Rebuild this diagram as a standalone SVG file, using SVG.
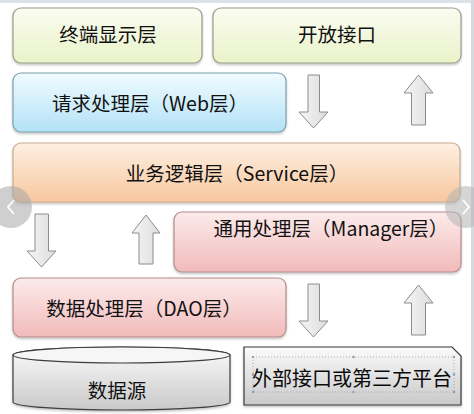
<svg xmlns="http://www.w3.org/2000/svg" width="474" height="414" viewBox="0 0 474 414">
<defs>
<linearGradient id="gYellow" x1="0" y1="0" x2="0" y2="1"><stop offset="0" stop-color="#fbfcf2"/><stop offset="1" stop-color="#e9f3c8"/></linearGradient>
<linearGradient id="gBlue" x1="0" y1="0" x2="0" y2="1"><stop offset="0" stop-color="#f0fbff"/><stop offset="1" stop-color="#b3e2f6"/></linearGradient>
<linearGradient id="gOrange" x1="0" y1="0" x2="0" y2="1"><stop offset="0" stop-color="#fdf0e2"/><stop offset="1" stop-color="#f8c79e"/></linearGradient>
<linearGradient id="gPink" x1="0" y1="0" x2="0" y2="1"><stop offset="0" stop-color="#fcebeb"/><stop offset="1" stop-color="#f2baba"/></linearGradient>
<linearGradient id="gGray" x1="0" y1="0" x2="0" y2="1"><stop offset="0" stop-color="#fbfbfb"/><stop offset="1" stop-color="#c9c9c9"/></linearGradient>
<linearGradient id="gArrow" x1="0" y1="0" x2="1" y2="0"><stop offset="0" stop-color="#f6f6f6"/><stop offset="1" stop-color="#dcdcdc"/></linearGradient>
<filter id="sh" x="-5%" y="-10%" width="110%" height="130%"><feDropShadow dx="0" dy="1.5" stdDeviation="1.2" flood-color="#000" flood-opacity="0.25"/></filter>
</defs>
<style>
.box{stroke-width:1.2;filter:url(#sh)}
.lbl{font-family:"Noto Sans CJK SC","Noto Sans",sans-serif;font-size:19.5px;font-weight:400;fill:#111111;text-anchor:middle}
.arr{fill:url(#gArrow);stroke:#8c8c8c;stroke-width:1}
</style>
<rect width="474" height="414" fill="#ffffff"/>
<rect x="0" y="0" width="474" height="3" fill="#dde2e9"/>
<rect x="471" y="0" width="3" height="414" fill="#d6d9df"/>

<g id="node-terminal">
<rect class="box" x="13" y="8" width="189" height="55" rx="8" fill="url(#gYellow)" stroke="#9c9c8a"/>
<text class="lbl" x="108" y="42">终端显示层</text>
</g>
<g id="node-openapi">
<rect class="box" x="213" y="8" width="248" height="55" rx="8" fill="url(#gYellow)" stroke="#9c9c8a"/>
<text class="lbl" x="337" y="42">开放接口</text>
</g>
<g id="node-web">
<rect class="box" x="13" y="73" width="273" height="59" rx="8" fill="url(#gBlue)" stroke="#7f9fae"/>
<text class="lbl" x="150" y="110.5">请求处理层（Web层）</text>
</g>
<g id="node-service">
<rect class="box" x="13" y="143" width="447" height="59" rx="8" fill="url(#gOrange)" stroke="#c9ab90"/>
<text class="lbl" x="237" y="180.5">业务逻辑层（Service层）</text>
</g>
<g id="node-manager">
<rect class="box" x="174" y="212" width="287" height="60" rx="8" fill="url(#gPink)" stroke="#b38c8c"/>
<text class="lbl" x="331" y="235.5">通用处理层（Manager层）</text>
</g>
<g id="node-dao">
<rect class="box" x="13" y="278" width="273" height="59" rx="8" fill="url(#gPink)" stroke="#b38c8c"/>
<text class="lbl" x="144" y="315.5">数据处理层（DAO层）</text>
</g>
<g id="node-datasource">
<path class="box" d="M13,355 V402 A108.5,8 0 0 0 230,402 V355 A108.5,8 0 0 0 13,355 Z" fill="url(#gGray)" stroke="#3c3c3c"/>
<ellipse cx="121.5" cy="355" rx="108.5" ry="8" fill="#f6f6f6" stroke="#3c3c3c" stroke-width="1.2"/>
<text class="lbl" x="117" y="397.5">数据源</text>
</g>
<g id="node-external">
<path class="box" d="M244,347 H452 L461,356 V405 H244 Z" fill="url(#gGray)" stroke="#3a3a3a" stroke-width="1.5"/>
<rect x="253" y="357" width="201" height="35" fill="none" stroke="#9a9ab0" stroke-width="0.8" stroke-dasharray="1,2"/>
<g fill="#9a9ab0">
<circle cx="253" cy="357" r="1.2"/><circle cx="353.5" cy="357" r="1.2"/><circle cx="454" cy="357" r="1.2"/>
<circle cx="253" cy="392" r="1.2"/><circle cx="353.5" cy="392" r="1.2"/><circle cx="454" cy="392" r="1.2"/>
<circle cx="253" cy="374.5" r="1.2"/><circle cx="454" cy="374.5" r="1.2"/>
</g>
<text class="lbl" x="352" y="385.5" style="font-size:20px;fill:#0a0a0a">外部接口或第三方平台</text>
</g>

<g id="connectors">
<path class="arr" d="M308,75 H319.5 V112 H328 L313.5,128 L299,112 H308 Z"/>
<path class="arr" d="M418.5,75 L433,93 H425.5 V125 H411.5 V93 H404 Z"/>
<path class="arr" d="M35,214 H48.5 V251 H56 L41.5,267 L27,251 H35 Z"/>
<path class="arr" d="M146,215 L160,233 H153 V264 H139 V233 H132 Z"/>
<path class="arr" d="M308,284 H319.5 V321 H328 L313.5,337 L299,321 H308 Z"/>
<path class="arr" d="M418.5,285 L433,303 H425.5 V335 H411.5 V303 H404 Z"/>
</g>

<g id="viewer-nav" opacity="0.55">
<circle cx="11" cy="207" r="21" fill="#a8a8a8"/>
<path d="M14,200 L8,207 L14,214" fill="none" stroke="#ffffff" stroke-width="1.8"/>
<circle cx="466" cy="207" r="21" fill="#b4b4b4"/>
<path d="M463,200 L469,207 L463,214" fill="none" stroke="#ffffff" stroke-width="1.8"/>
</g>
</svg>
